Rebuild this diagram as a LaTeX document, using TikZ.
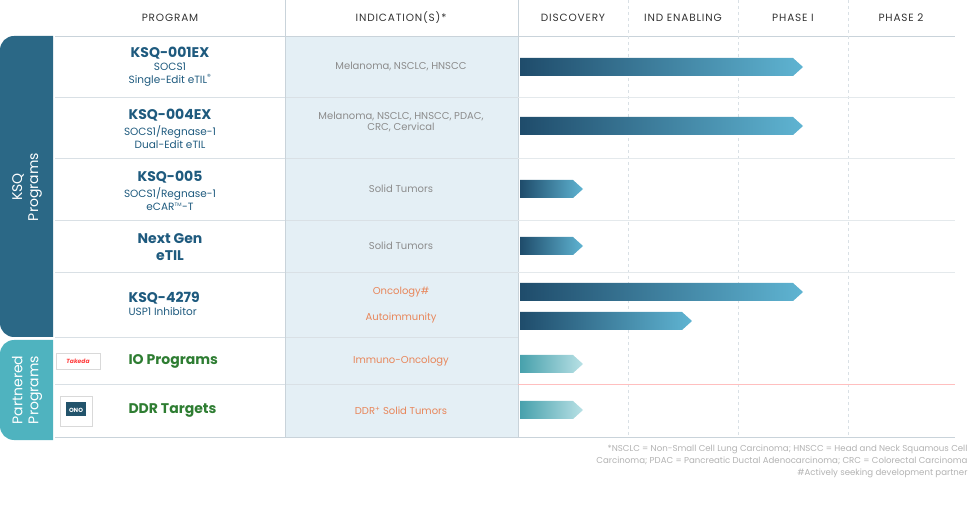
\documentclass[tikz,border=0pt]{standalone}
\usepackage{fontspec}
\setmainfont{Poppins}
\usetikzlibrary{positioning}

\definecolor{ksqdark}{HTML}{2B6886}
\definecolor{ksqteal}{HTML}{4FB3BF}
\definecolor{indfill}{HTML}{E4EFF5}
\definecolor{progblue}{HTML}{1E5A7E}
\definecolor{partgreen}{HTML}{2E7D32}
\definecolor{orangetxt}{HTML}{E8865A}
\definecolor{bardark}{HTML}{1F4C6B}
\definecolor{barlight}{HTML}{5FB4D2}
\definecolor{gridline}{HTML}{C9D3DA}

\tikzset{
  head/.style={font=\fontsize{10.5}{12}\selectfont\addfontfeatures{LetterSpace=8}, text=black!80},
  prog/.style={font=\fontsize{14}{17}\selectfont\bfseries, text=progblue, align=center},
  sub/.style={font=\fontsize{10.5}{13}\selectfont, text=progblue, align=center},
  part/.style={font=\fontsize{14}{16}\selectfont\bfseries, text=partgreen},
  ind/.style={font=\fontsize{10}{11.5}\selectfont, text=black!45, align=center},
  indo/.style={font=\fontsize{10}{12}\selectfont, text=orangetxt, align=center},
  tab/.style={font=\fontsize{14}{16}\selectfont, text=white, align=center, rotate=90},
  note/.style={font=\fontsize{8.6}{12}\selectfont, text=black!30, align=right, anchor=east}
}
% bar from x=520 to tip #2 at height #1
\newcommand{\phasebar}[4]{%
  \shade[left color=#3, right color=#4]
    (520,#1-9) -- (#2-10,#1-9) -- (#2,#1) -- (#2-10,#1+9) -- (520,#1+9) -- cycle;}

\begin{document}
\begin{tikzpicture}[x=1pt,y=-1pt]
  \useasboundingbox (0,0) rectangle (980,518);

  % tabs and indication column
  \fill[ksqdark] (53,36) -- (14,36) arc (270:180:14) -- (0,323) arc (180:90:14) -- (53,337) -- cycle;
  \fill[ksqteal] (53,340) -- (14,340) arc (270:180:14) -- (0,426) arc (180:90:14) -- (53,440) -- cycle;
  \fill[indfill] (285,36) rectangle (518,437);

  % grid
  \draw[gridline] (55,36) -- (955,36);
  \foreach \y in {97,158,220,272,337,384} \draw[gridline!70] (55,\y) -- (518,\y);
  \draw[gridline] (55,437) -- (955,437);
  \foreach \x in {285,518} \draw[gridline] (\x,0) -- (\x,437);
  \foreach \x in {628,738,848} \draw[gridline!70, dashed] (\x,0) -- (\x,437);
  \foreach \y in {97,158,220,272} \draw[gridline!50] (518,\y) -- (955,\y);
  \draw[red!25] (518,384) -- (955,384);

  % headers
  \node[head] (hprog) at (170,18) {PROGRAM};
  \node[head] (hind) at (401,18) {INDICATION(S)*};
  \node[head] (hdisc) at (573,18) {DISCOVERY};
  \node[head] (hinde) at (683,18) {IND ENABLING};
  \node[head] (hph1) at (793,18) {PHASE I};
  \node[head] (hph2) at (901,18) {PHASE 2};

  % side tabs
  \node[tab] (tksq) at (27,187) {KSQ\\Programs};
  \node[tab] (tpart) at (27,390) {Partnered\\Programs};

  % programs
  \node[prog] (p1) at (170,53) {KSQ-001EX};
  \node[sub, below=-3pt of p1] {SOCS1\\Single-Edit eTIL\textsuperscript{\textregistered}};
  \node[prog] (p2) at (170,115) {KSQ-004EX};
  \node[sub, below=-3pt of p2] {SOCS1/Regnase-1\\Dual-Edit eTIL};
  \node[prog] (p3) at (170,177) {KSQ-005};
  \node[sub, below=-3pt of p3] {SOCS1/Regnase-1\\eCAR\textsuperscript{\tiny TM}-T};
  \node[prog] (p4) at (170,247) {Next Gen\\eTIL};
  \node[prog, anchor=west] (p5) at (125,298) {KSQ-4279};
  \node[sub, below=-4pt of p5.south west, anchor=north west] {USP1 Inhibitor};
  \node[part, anchor=west] (p6) at (125,361) {IO Programs};
  \node[part, anchor=west] (p7) at (125,411) {DDR Targets};

  % partner logos
  \node[draw=black!15, fill=white, minimum width=44pt, minimum height=16pt,
        font=\fontsize{6}{6}\selectfont\itshape\bfseries, text=red!75] (takeda) at (78,361) {Takeda};
  \node[draw=black!15, fill=white, minimum width=32pt, minimum height=30pt] (ono) at (76,411) {};
  \fill[ksqdark!80!black] (66,402) rectangle (86,416);
  \node[font=\fontsize{6}{6}\selectfont\bfseries, text=white] at (76,410) {ONO};

  % indications
  \node[ind] (i1) at (401,67) {Melanoma, NSCLC, HNSCC};
  \node[ind] (i2) at (401,122) {Melanoma, NSCLC, HNSCC, PDAC,\\CRC, Cervical};
  \node[ind] (i3) at (401,189) {Solid Tumors};
  \node[ind] (i4) at (401,246) {Solid Tumors};
  \node[indo] (i5) at (401,292) {Oncology\#};
  \node[indo] (i6) at (401,318) {Autoimmunity};
  \node[indo] (i7) at (401,361) {Immuno-Oncology};
  \node[indo] (i8) at (401,411) {DDR\textsuperscript{+} Solid Tumors};

  % phase bars
  \phasebar{67}{803}{bardark}{barlight}
  \phasebar{126}{803}{bardark}{barlight}
  \phasebar{189}{583}{bardark}{barlight}
  \phasebar{246}{583}{bardark}{barlight}
  \phasebar{292}{803}{bardark}{barlight}
  \phasebar{321}{692}{bardark}{barlight}
  \phasebar{364}{583}{ksqteal!90!black}{ksqteal!40}
  \phasebar{410}{583}{ksqteal!90!black}{ksqteal!40}

  % footnote
  \node[note] (fn) at (971,461) {*NSCLC = Non-Small Cell Lung Carcinoma; HNSCC = Head and Neck Squamous Cell\\Carcinoma; PDAC = Pancreatic Ductal Adenocarcinoma; CRC = Colorectal Carcinoma\\\#Actively seeking development partner};
\end{tikzpicture}
\end{document}
